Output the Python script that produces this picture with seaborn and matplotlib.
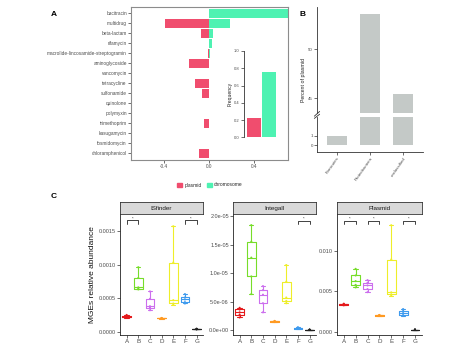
import numpy as np
import pandas as pd
import matplotlib
matplotlib.use('Agg')
import matplotlib.pyplot as plt
from matplotlib.patches import Patch
import seaborn as sns

# ---------------- data ----------------
resistance_classes = ['bacitracin', 'multidrug', 'beta-lactam', 'rifamycin',
                      'macrolide-lincosamide-streptogramin', 'aminoglycoside',
                      'vancomycin', 'tetracycline', 'sulfonamide', 'quinolone',
                      'polymyxin', 'trimethoprim', 'kasugamycin', 'fosmidomycin',
                      'chloramphenicol']
plasmid_freq = [0.0, 0.39, 0.07, 0.0, 0.01, 0.18, 0.0, 0.125, 0.06, 0.0,
                0.0, 0.04, 0.0, 0.0, 0.09]
chromosome_freq = [0.75, 0.19, 0.035, 0.025, 0.006, 0.004, 0.004, 0.004, 0.004,
                   0.004, 0.004, 0.004, 0.004, 0.004, 0.004]
overall_labels = ['plasmid', 'chromosome']
overall_freq = [0.23, 0.76]

phyla = ['Firmicutes', 'Proteobacteria', 'unclassified']
phyla_pct = [0.95, 53.6, 45.4]

groups = ['A', 'B', 'C', 'D', 'E', 'F', 'G']
isfinder_values = {
    'A': [0.000205, 0.000215, 0.00022, 0.000228, 0.00025],
    'B': [0.00063, 0.00064, 0.00066, 0.0008, 0.00096],
    'C': [0.00032, 0.00036, 0.00038, 0.00049, 0.0006],
    'D': [0.000195, 0.000198, 0.0002, 0.000202, 0.000205],
    'E': [0.0004, 0.00042, 0.00047, 0.00103, 0.00157],
    'F': [0.00042, 0.00044, 0.00048, 0.00051, 0.00056],
    'G': [0.000035, 0.000038, 0.00004, 0.000042, 0.000045],
}
integall_values = {
    'A': [0.22e-5, 0.27e-5, 0.31e-5, 0.36e-5, 0.39e-5],
    'B': [0.63e-5, 0.94e-5, 1.27e-5, 1.55e-5, 1.84e-5],
    'C': [0.31e-5, 0.47e-5, 0.62e-5, 0.70e-5, 0.77e-5],
    'D': [0.14e-5, 0.145e-5, 0.15e-5, 0.155e-5, 0.16e-5],
    'E': [0.47e-5, 0.51e-5, 0.57e-5, 0.85e-5, 1.14e-5],
    'F': [0.02e-5, 0.025e-5, 0.03e-5, 0.035e-5, 0.05e-5],
    'G': [0.0, 0.002e-5, 0.004e-5, 0.006e-5, 0.008e-5],
}
plasmid_values = {
    'A': [0.0033, 0.00335, 0.0034, 0.00345, 0.0035],
    'B': [0.00549, 0.0058, 0.00626, 0.00695, 0.00776],
    'C': [0.00491, 0.00528, 0.00573, 0.00605, 0.00638],
    'D': [0.00202, 0.00205, 0.00207, 0.00209, 0.00212],
    'E': [0.00446, 0.00463, 0.00488, 0.0089, 0.01309],
    'F': [0.00199, 0.00211, 0.00235, 0.0026, 0.00284],
    'G': [0.0003, 0.00031, 0.00032, 0.00033, 0.00034],
}
isfinder_pairs = [('A', 'B'), ('F', 'G')]
integall_pairs = [('F', 'G')]
plasmid_pairs = [('A', 'B'), ('C', 'D'), ('F', 'G')]

# ---------------- style ----------------
sns.set_theme(style='white')
plt.rcParams['font.family'] = ['Liberation Sans', 'DejaVu Sans']
PLAS = '#F04D6E'
CHROM = '#4EF2B2'
GRAY_BAR = '#C4C9C7'
TXT = '#4D4D4D'
group_palette = dict(zip(groups, ['#E41A1C', '#77DD2A', '#CC6FEE', '#FF9A22',
                                  '#EEEE2A', '#3F9BEE', '#222222']))

W, H = 474, 355
fig = plt.figure(figsize=(W / 100, H / 100), dpi=100)
fig.patch.set_facecolor('white')


def add_ax(x0, y0, x1, y1):
    return fig.add_axes([x0 / W, 1 - y1 / H, (x1 - x0) / W, (y1 - y0) / H])


def style_ticks(ax, size):
    ax.tick_params(axis='both', which='both', length=2, width=0.5, pad=1,
                   labelsize=size, labelcolor=TXT, color='#333333',
                   left=True, bottom=True)


# ---------------- panel A ----------------
axA = add_ax(131, 7, 288, 159.5)
dfA = pd.DataFrame({'cls': resistance_classes,
                    'plasmid': [-v for v in plasmid_freq],
                    'chromosome': chromosome_freq})
sns.barplot(data=dfA, y='cls', x='chromosome', color=CHROM, width=0.9,
            orient='h', ax=axA, saturation=1, linewidth=0)
sns.barplot(data=dfA, y='cls', x='plasmid', color=PLAS, width=0.9,
            orient='h', ax=axA, saturation=1, linewidth=0)
axA.set_xlim(-0.69, 0.70)
axA.set_ylim(14.6, -0.6)
axA.set_xticks([-0.4, 0.0, 0.4])
axA.set_xticklabels(['-0.4', '0.0', '0.4'])
axA.set_xlabel('')
axA.set_ylabel('')
style_ticks(axA, 3.4)
for s in axA.spines.values():
    s.set_color('#8C8C8C')
    s.set_linewidth(0.8)

# inset
axI = add_ax(244, 51, 277.5, 137.5)
sns.barplot(x=overall_labels, y=overall_freq, hue=overall_labels,
            palette=[PLAS, CHROM], width=0.9, ax=axI, legend=False,
            saturation=1, linewidth=0)
axI.set_facecolor('none')
axI.set_xlim(-0.64, 1.52)
axI.set_ylim(0, 1.0)
axI.set_yticks([0.0, 0.2, 0.4, 0.6, 0.8, 1.0])
axI.set_yticklabels(['0.0', '0.2', '0.4', '0.6', '0.8', '1.0'])
axI.set_xticks([])
style_ticks(axI, 3.0)
axI.tick_params(bottom=False)
for k in ['top', 'right', 'bottom']:
    axI.spines[k].set_visible(False)
axI.spines['left'].set_color('#333333')
axI.spines['left'].set_linewidth(0.6)
axI.set_ylabel('Frequency', fontsize=3.6, color='#222222', labelpad=1)

fig.legend(handles=[Patch(color=PLAS, label='plasmid'),
                    Patch(color=CHROM, label='chromosome')],
           loc='center', bbox_to_anchor=(210 / W, 1 - 185 / H), ncol=2,
           frameon=False, fontsize=3.5, handlelength=1.0, handleheight=1.0,
           columnspacing=1.0, handletextpad=0.5)

# ---------------- panel B ----------------
axBu = add_ax(317, 7, 423, 113)
axBl = add_ax(317, 117, 423, 152)
for ax in (axBu, axBl):
    sns.barplot(x=phyla, y=phyla_pct, color=GRAY_BAR, width=0.6, ax=ax,
                saturation=1, linewidth=0)
    ax.set_xlim(-0.6, 2.6)
    ax.set_facecolor('none')
    style_ticks(ax, 3.2)
    for k in ['top', 'right']:
        ax.spines[k].set_visible(False)
    ax.spines['left'].set_color('#333333')
    ax.spines['left'].set_linewidth(0.6)
axBu.set_ylim(43.47, 54.3)
axBu.set_yticks([45, 50])
axBu.set_yticklabels(['45', '50'])
axBu.spines['bottom'].set_visible(False)
axBu.tick_params(bottom=False, labelbottom=False)
axBl.set_ylim(-0.7, 2.95)
axBl.set_yticks([0, 1])
axBl.set_yticklabels(['0', '1'])
axBl.spines['bottom'].set_color('#333333')
axBl.spines['bottom'].set_linewidth(0.6)
axBl.set_xticks(range(len(phyla)))
axBl.set_xticklabels(phyla, rotation=55, ha='right', rotation_mode='anchor')
# axis break marks
axBu.plot([-0.025, 0.025], [-0.03, 0.015], transform=axBu.transAxes,
          color='#333333', lw=0.6, clip_on=False)
axBl.plot([-0.025, 0.025], [0.96, 1.08], transform=axBl.transAxes,
          color='#333333', lw=0.6, clip_on=False)
fig.text(304 / W, 1 - 80 / H, 'Percent of plasmid', rotation=90,
         ha='center', va='center', fontsize=3.8, color='#222222')

# ---------------- panel C ----------------
facets = [
    ('ISfinder', isfinder_values, isfinder_pairs, 120, 203,
     (-0.000049, 0.001748), [0, 0.0005, 0.0010, 0.0015],
     ['0.0000', '0.0005', '0.0010', '0.0015'], 0.001659, 0.00161),
    ('Integall', integall_values, integall_pairs, 233, 316,
     (-0.0875e-5, 2.03e-5), [0, 0.5e-5, 1.0e-5, 1.5e-5, 2.0e-5],
     ['0.0e+00', '5.0e-06', '1.0e-05', '1.5e-05', '2.0e-05'], 1.91e-5, 1.867e-5),
    ('Plasmid', plasmid_values, plasmid_pairs, 337, 421.5,
     (-0.00033, 0.014427), [0, 0.005, 0.010],
     ['0.000', '0.005', '0.010'], 0.01366, 0.01324),
]
for name, vals, pairs, x0, x1, ylim, yt, ytl, by, bleg in facets:
    df = pd.DataFrame([(g, v) for g in groups for v in vals[g]],
                      columns=['group', 'abundance'])
    ax = add_ax(x0, 214.3, x1, 335)
    sns.boxplot(data=df, x='group', y='abundance', hue='group', order=groups,
                palette=group_palette, fill=False, width=0.75, linewidth=0.8,
                whis=np.inf, ax=ax, legend=False)
    sns.stripplot(data=df, x='group', y='abundance', hue='group', order=groups,
                  palette=group_palette, jitter=False, size=1.5, ax=ax,
                  legend=False)
    ax.set_xlim(-0.57, 6.55)
    ax.set_ylim(*ylim)
    ax.set_yticks(yt)
    ax.set_yticklabels(ytl)
    ax.set_xlabel('')
    ax.set_ylabel('')
    style_ticks(ax, 4.0)
    ax.tick_params(axis='x', labelsize=4.5)
    for k in ['top', 'right']:
        ax.spines[k].set_visible(False)
    for k in ['left', 'bottom']:
        ax.spines[k].set_color('#222222')
        ax.spines[k].set_linewidth(0.6)
    for a, b in pairs:
        ia, ib = groups.index(a), groups.index(b)
        ax.plot([ia, ia, ib, ib], [bleg, by, by, bleg], color='#222222',
                lw=0.6, clip_on=False)
        ax.text((ia + ib) / 2, by, '*', ha='center', va='bottom',
                fontsize=3, color='#222222')
    sax = add_ax(x0, 202.3, x1, 214.3)
    sax.set_facecolor('#D9D9D9')
    sax.set_xticks([])
    sax.set_yticks([])
    for s in sax.spines.values():
        s.set_color('#333333')
        s.set_linewidth(0.6)
    sax.text(0.5, 0.5, name, ha='center', va='center', fontsize=4.5,
             color='#1A1A1A', transform=sax.transAxes)

fig.text(93 / W, 1 - 275 / H, 'MGEs relative abundance', rotation=90,
         ha='center', va='center', fontsize=6, color='#111111')

# panel labels
for lab, x, y in [('A', 54, 14), ('B', 303, 14), ('C', 54, 196)]:
    fig.text(x / W, 1 - y / H, lab, ha='center', va='center', fontsize=6,
             fontweight='bold', color='black')

fig.savefig('out.png', dpi=100)
